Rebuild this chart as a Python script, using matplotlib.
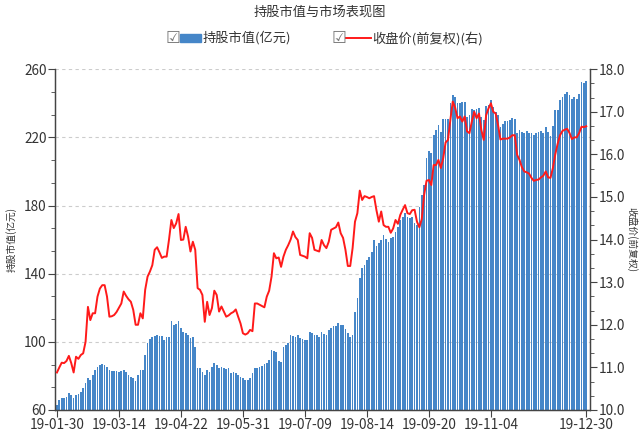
import matplotlib
matplotlib.use("Agg")
import matplotlib.pyplot as plt
from matplotlib.ticker import AutoMinorLocator, FormatStrFormatter
from matplotlib.lines import Line2D
from matplotlib.patches import Rectangle
import numpy as np
import pandas as pd

plt.rcParams['font.family'] = ['Noto Sans CJK SC', 'DejaVu Sans']

# trading days 2019-01-30 .. 2019-12-30 (A-share calendar)
holidays = ['2019-02-04', '2019-02-05', '2019-02-06', '2019-02-07', '2019-02-08',
            '2019-04-05', '2019-05-01', '2019-05-02', '2019-05-03', '2019-06-07',
            '2019-09-13', '2019-10-01', '2019-10-02', '2019-10-03', '2019-10-04',
            '2019-10-07']
dates = pd.bdate_range('2019-01-30', '2019-12-30', freq='C', holidays=holidays)

# holding market value (100M CNY), left axis
holding = [
    62.9, 65.9, 66.8, 66.8, 67.5, 69.8, 69.0, 66.8, 69.0, 69.5,
    70.7, 72.7, 75.6, 78.6, 77.6, 80.5, 83.5, 85.4, 86.4, 86.8,
    86.4, 85.4, 83.5, 83.0, 83.0, 82.8, 82.5, 83.0, 83.5, 82.0,
    80.5, 79.5, 78.6, 77.2, 80.5, 83.5, 83.5, 92.3, 99.1, 101.5,
    102.9, 103.5, 104.0, 103.6, 103.6, 101.0, 103.0, 103.0, 112.4, 110.0,
    110.4, 112.4, 107.9, 106.0, 105.0, 104.0, 102.0, 103.0, 97.1, 84.4,
    84.4, 82.5, 80.5, 83.5, 82.5, 85.4, 87.7, 86.4, 84.4, 85.4,
    84.4, 83.8, 84.4, 81.5, 82.5, 81.5, 80.5, 79.5, 78.6, 77.6,
    77.6, 78.6, 81.5, 84.4, 84.8, 85.4, 85.8, 87.0, 87.4, 89.6,
    95.2, 94.8, 94.2, 88.9, 88.3, 97.1, 98.1, 99.5, 104.0, 103.4,
    103.0, 104.0, 102.0, 101.5, 101.0, 101.0, 105.9, 105.0, 104.0, 104.0,
    103.0, 105.9, 104.4, 104.0, 106.9, 108.4, 109.3, 109.3, 111.2, 109.9,
    109.9, 107.3, 105.0, 103.0, 104.0, 117.7, 125.5, 137.2, 143.1, 145.0,
    148.0, 150.0, 152.9, 159.7, 156.0, 158.0, 160.0, 162.6, 160.5, 158.7,
    160.7, 161.3, 164.6, 167.5, 171.4, 173.4, 175.4, 173.4, 172.4, 173.4,
    169.5, 168.5, 179.2, 186.0, 192.0, 207.6, 212.1, 210.6, 221.3, 224.4,
    227.2, 223.3, 231.0, 231.0, 231.0, 239.9, 244.7, 243.8, 239.9, 239.9,
    240.8, 240.8, 232.0, 232.9, 236.9, 235.9, 236.5, 237.5, 232.0, 230.0,
    238.3, 238.9, 242.2, 237.9, 235.0, 233.0, 226.2, 228.1, 229.7, 229.7,
    230.0, 231.6, 230.5, 222.3, 224.6, 223.3, 222.3, 223.9, 222.7, 222.3,
    221.3, 222.3, 223.3, 223.9, 222.3, 225.8, 223.3, 220.8, 226.4, 236.3,
    235.9, 242.2, 243.8, 245.7, 246.7, 244.7, 242.8, 243.8, 242.8, 245.7,
    252.6, 252.0, 253.0,
]

# close price (forward adjusted), right axis
close = [
    10.88, 11.00, 11.11, 11.10, 11.15, 11.27, 11.10, 10.88, 11.25, 11.20,
    11.29, 11.33, 11.60, 12.42, 12.11, 12.27, 12.27, 12.66, 12.85, 12.93,
    12.93, 12.66, 12.19, 12.20, 12.23, 12.30, 12.40, 12.50, 12.78, 12.68,
    12.60, 12.54, 12.35, 12.00, 12.00, 12.27, 12.15, 12.82, 13.13, 13.25,
    13.40, 13.76, 13.82, 13.70, 13.57, 13.60, 13.60, 14.00, 14.46, 14.27,
    14.38, 14.60, 13.99, 14.00, 14.30, 14.07, 13.72, 13.95, 13.76, 12.86,
    12.82, 12.70, 12.07, 12.54, 12.23, 12.39, 12.80, 12.70, 12.31, 12.43,
    12.31, 12.19, 12.22, 12.27, 12.30, 12.36, 12.19, 12.03, 11.80, 11.77,
    11.80, 11.88, 11.85, 12.50, 12.50, 12.47, 12.44, 12.41, 12.66, 12.80,
    13.13, 13.68, 13.56, 13.58, 13.36, 13.60, 13.76, 13.87, 14.00, 14.19,
    14.06, 13.99, 13.64, 13.62, 13.60, 13.56, 14.15, 14.04, 13.76, 13.74,
    13.72, 13.99, 13.87, 13.80, 13.95, 14.23, 14.26, 14.29, 14.40, 14.15,
    14.04, 13.76, 13.38, 13.38, 13.80, 14.42, 14.62, 15.15, 14.93, 15.02,
    15.00, 14.97, 15.00, 15.02, 14.69, 14.42, 14.66, 14.34, 14.30, 14.30,
    14.16, 14.26, 14.46, 14.37, 14.58, 14.70, 14.81, 14.62, 14.60, 14.69,
    14.70, 14.42, 14.29, 14.48, 15.05, 15.38, 15.40, 15.28, 15.75, 15.75,
    15.87, 15.68, 15.91, 16.28, 16.34, 16.81, 17.24, 17.10, 16.85, 16.89,
    16.77, 16.89, 16.54, 16.50, 16.77, 17.00, 16.85, 16.96, 16.57, 16.34,
    16.92, 17.08, 17.20, 17.00, 16.96, 16.69, 16.35, 16.37, 16.37, 16.37,
    16.40, 16.45, 16.45, 15.99, 15.87, 15.70, 15.60, 15.58, 15.55, 15.45,
    15.38, 15.40, 15.41, 15.46, 15.50, 15.60, 15.46, 15.45, 15.68, 16.00,
    16.25, 16.45, 16.55, 16.58, 16.60, 16.50, 16.36, 16.40, 16.40, 16.50,
    16.65, 16.64, 16.66,
]

title = '持股市值与市场表现图'
bar_name = '持股市值(亿元)'
line_name = '收盘价(前复权)(右)'
left_label = '持股市值(亿元)'
right_label = '收盘价(前复权)'

x = np.arange(len(dates))
tick_idx = list(range(0, 183, 26)) + [len(dates) - 1]
tick_labels = [dates[i].strftime('%y-%m-%d') for i in tick_idx]

bar_color = '#4586c8'
line_color = '#ff1a1a'

fig = plt.figure(figsize=(6.4, 4.38), dpi=100)
ax = fig.add_axes([0.086, 0.064, 0.836, 0.778])

ax.bar(x, holding, width=0.72, color=bar_color, zorder=2)
ax.set_ylim(60, 260)
ax.set_xlim(-0.8, 223.6)
ax.set_yticks([60, 100, 140, 180, 220, 260])
ax.yaxis.set_minor_locator(AutoMinorLocator(3))
ax.grid(axis='y', which='major', color='#cccccc', linestyle=(0, (3, 3)), linewidth=0.8, zorder=0)
ax.set_xticks(tick_idx)
ax.set_xticklabels(tick_labels)

ax2 = ax.twinx()
ax2.plot(x, close, color=line_color, linewidth=1.4, zorder=3)
ax2.set_ylim(10, 18)
ax2.set_yticks(np.arange(10, 18.1, 1.0))
ax2.yaxis.set_major_formatter(FormatStrFormatter('%.1f'))
ax2.yaxis.set_minor_locator(AutoMinorLocator(3))

for a in (ax, ax2):
    a.spines['top'].set_visible(False)
    for s in ('left', 'right', 'bottom'):
        a.spines[s].set_color('#444444')
        a.spines[s].set_linewidth(0.9)
    a.tick_params(which='major', length=5, color='#444444', labelsize=9.8, labelcolor='#333333', pad=1)
    a.tick_params(which='minor', length=3, color='#444444')

ax.set_ylabel(left_label, fontsize=7, color='#333333', labelpad=5)
ax2.set_ylabel(right_label, fontsize=7, color='#333333', rotation=270, labelpad=9)

fig.text(0.5, 0.972, title, ha='center', va='center', fontsize=9.5, color='#333333')

# legend with check boxes
ly = 0.913
fig.text(0.258, ly, '☑', ha='left', va='center', fontsize=12, color='#777777', family=['DejaVu Sans'])
fig.patches.append(Rectangle((0.282, ly - 0.010), 0.032, 0.020, transform=fig.transFigure,
                             color=bar_color, figure=fig))
fig.text(0.316, ly, bar_name, ha='left', va='center', fontsize=9.5, color='#333333')
fig.text(0.518, ly, '☑', ha='left', va='center', fontsize=12, color='#777777', family=['DejaVu Sans'])
fig.lines.append(Line2D([0.541, 0.579], [ly, ly], transform=fig.transFigure,
                        color=line_color, linewidth=1.4, figure=fig))
fig.text(0.581, ly, line_name, ha='left', va='center', fontsize=9.5, color='#333333')

fig.savefig('out.png', dpi=100)
